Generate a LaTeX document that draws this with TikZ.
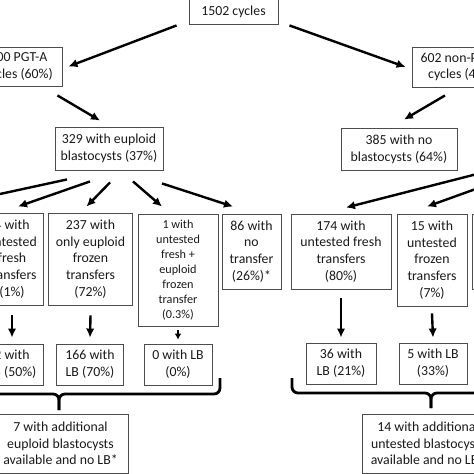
\documentclass[tikz,border=0pt]{standalone}
\usepackage{fontspec}
\setmainfont{Carlito}
\usepackage{tikz}
\usetikzlibrary{arrows.meta,positioning}

\begin{document}
\begin{tikzpicture}[
    x=1pt, y=-1pt,
    box/.style={draw=black!70, line width=0.9pt, align=center, inner sep=1pt, text=black!90,
                font=\fontsize{13.8}{16.7}\selectfont},
    smalltext/.style={font=\fontsize{12.2}{15}\selectfont},
    arrow/.style={-{Latex[length=9pt,width=8.5pt]}, line width=2.4pt},
    shortarrow/.style={-{Latex[length=6pt,width=7pt]}, line width=2.2pt},
    brace/.style={line width=2.8pt, rounded corners=6pt}
]
\useasboundingbox (0,0) rectangle (474,474);
\clip (0,0) rectangle (474,474);

% top levels
\node[box, minimum width=89pt, minimum height=25pt] (total) at (233.5,11.5) {1502 cycles};
\node[box, minimum width=87pt, minimum height=39pt] (pgta) at (18.5,66.5) {900 PGT-A\\cycles (60\%)};
\node[box, minimum width=101pt, minimum height=40pt] (nonpgta) at (462.5,67) {602 non-PGT-A\\cycles (40\%)};
\node[box, minimum width=108pt, minimum height=43pt] (euploid) at (109,148.5) {329 with euploid\\blastocysts (37\%)};
\node[box, minimum width=116pt, minimum height=42pt] (noblast) at (399,149) {385 with no\\blastocysts (64\%)};

% transfer groups
\node[box, minimum width=62pt, minimum height=92pt] (freshA) at (12,259) {4 with\\untested\\fresh\\transfers\\(1\%)};
\node[box, minimum width=84pt, minimum height=92pt] (frozenB) at (90.5,259) {237 with\\only euploid\\frozen\\transfers\\(72\%)};
\node[box, smalltext, minimum width=80pt, minimum height=112pt] (mixedC) at (178,270) {1 with\\untested\\fresh +\\euploid\\frozen\\transfer\\(0.3\%)};
\node[box, minimum width=59pt, minimum height=75pt] (notransD) at (251.5,251.5) {86 with\\no\\transfer\\(26\%)*};
\node[box, minimum width=100pt, minimum height=75pt] (freshE) at (341,251.5) {174 with\\untested fresh\\transfers\\(80\%)};
\node[box, minimum width=70pt, minimum height=92pt] (frozenF) at (432,260) {15 with\\untested\\frozen\\transfers\\(7\%)};
\node[box, minimum width=60pt, minimum height=75pt] (restG) at (502,251.5) {};

% live births
\node[box, minimum width=62pt, minimum height=41pt] (lbA) at (12,364.5) {2 with\\LB (50\%)};
\node[box, minimum width=67pt, minimum height=41pt] (lbB) at (90,364.5) {166 with\\LB (70\%)};
\node[box, minimum width=68pt, minimum height=41pt] (lbC) at (178,364.5) {0 with LB\\(0\%)};
\node[box, minimum width=70pt, minimum height=41pt] (lbE) at (341,363.5) {36 with\\LB (21\%)};
\node[box, minimum width=68pt, minimum height=41pt] (lbF) at (433,363.5) {5 with LB\\(33\%)};

% additional blastocysts
\node[box, minimum width=135pt, minimum height=59pt] (addeup) at (60.5,443.5) {7 with additional\\euploid blastocysts\\available and no LB*};
\node[box, minimum width=132pt, minimum height=59pt] (addunt) at (428,443.5) {14 with additional\\untested blastocysts\\available and no LB*};

% free ends off the picture
\coordinate (offleft) at (-60,207);
\coordinate (offrighta) at (520,163);
\coordinate (offrightb) at (520,173);

\draw[arrow] ([xshift=-12pt,yshift=-1pt]total.south west) -- ([xshift=6pt]pgta.east);
\draw[arrow] ([xshift=11pt,yshift=-1pt]total.south east) -- ([xshift=-6pt]nonpgta.west);
\draw[arrow] ([xshift=-5pt,yshift=-9pt]pgta.south east) -- ([xshift=-9pt,yshift=6pt]euploid.north);
\draw[arrow] ([xshift=-17.5pt,yshift=-8pt]nonpgta.south) -- ([xshift=5pt,yshift=8pt]noblast.north);

\draw[arrow] ([xshift=-42pt,yshift=-9pt]euploid.south) -- (offleft);
\draw[arrow] ([xshift=-19pt,yshift=-11pt]euploid.south) -- ([xshift=6pt,yshift=6pt]freshA.north);
\draw[arrow] ([xshift=1pt,yshift=-12pt]euploid.south) -- ([xshift=-4pt,yshift=6pt]frozenB.north);
\draw[arrow] ([xshift=24pt,yshift=-11pt]euploid.south) -- ([xshift=-16pt,yshift=7pt]mixedC.north);
\draw[arrow] ([xshift=53pt,yshift=-13pt]euploid.south) -- ([xshift=-18.5pt,yshift=7pt]notransD.north);
\draw[arrow] (offrighta) -- ([xshift=5pt,yshift=6pt]freshE.north);
\draw[arrow] (offrightb) -- ([xshift=-5pt,yshift=7pt]frozenF.north);

\draw[arrow] ([yshift=-10pt]freshA.south) -- ([yshift=6pt]lbA.north);
\draw[arrow] ([yshift=-10pt]frozenB.south) -- ([yshift=6pt]lbB.north);
\draw[shortarrow] ([yshift=-4pt]mixedC.south) -- ([yshift=4pt]lbC.north);
\draw[arrow] ([yshift=-9pt]freshE.south) -- ([yshift=5pt]lbE.north);
\draw[arrow] ([yshift=-7pt]frozenF.south) -- ([yshift=5pt]lbF.north);

% braces
\draw[brace] (-102,378) |- (59,394) -- (59,410);
\draw[brace] (220,378) |- (59,394) -- (59,410);
\draw[brace] (292,378) |- (431,393) -- (431,408);
\draw[brace] (570,378) |- (431,393) -- (431,408);
\end{tikzpicture}
\end{document}
